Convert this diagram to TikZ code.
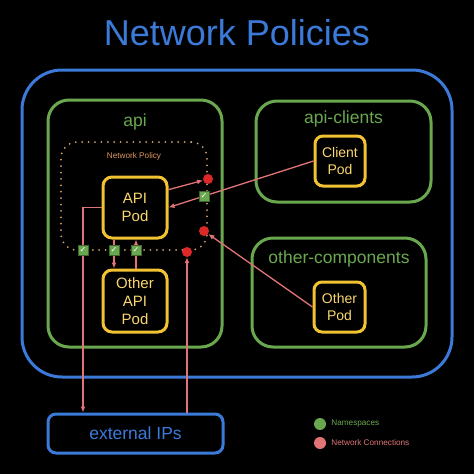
\documentclass[tikz,border=0pt]{standalone}
\usepackage{fontspec}
\setmainfont{Liberation Sans}
\newfontfamily\symfont{DejaVu Sans}
\usepackage{tikz}
\usetikzlibrary{positioning}
\usetikzlibrary{calc,arrows.meta}

\definecolor{kblue}{RGB}{60,122,218}
\definecolor{kgreen}{RGB}{106,168,79}
\definecolor{kyellow}{RGB}{241,194,50}
\definecolor{kpodtext}{RGB}{250,215,110}
\definecolor{kpink}{RGB}{226,116,120}
\definecolor{kred}{RGB}{222,40,40}
\definecolor{ktan}{RGB}{205,160,115}
\definecolor{kpolicy}{RGB}{222,150,95}

\tikzset{
	clusterbox/.style={draw=kblue, line width=3pt, rounded corners=40pt, inner sep=0pt},
	nsbox/.style={draw=kgreen, line width=3pt, rounded corners=21pt, inner sep=0pt},
	policybox/.style={draw=ktan, line width=2pt, line cap=round, dash pattern=on 0pt off 6.4pt, rounded corners=16pt, inner sep=0pt},
	podbox/.style={draw=kyellow, line width=3pt, rounded corners=9pt, inner sep=0pt, align=center, text=kpodtext},
	nslabel/.style={text=kgreen, font=\fontsize{17.5}{20}\selectfont, inner sep=0pt},
	conn/.style={draw=kpink, line width=1.3pt, -{Latex[length=6pt,width=5pt]}},
	reddot/.style={circle, fill=kred, minimum size=10pt, inner sep=0pt},
	okbox/.style={fill=kgreen, draw=kgreen!60!black, line width=0.5pt, minimum size=10pt, inner sep=0pt, text=white, font=\symfont\fontsize{8}{8}\selectfont},
	legenddot/.style={circle, minimum size=12pt, inner sep=0pt},
	legendtext/.style={font=\fontsize{8.2}{10}\selectfont, inner sep=0pt},
}

\begin{document}
\begin{tikzpicture}[x=1pt, y=-1pt]
	
	% black page, also fixes the size
	\fill[black] (0,0) rectangle (474,474);
	\useasboundingbox (0,0) rectangle (474,474);
	
	\node[text=kblue, font=\fontsize{36}{40}\selectfont, anchor=base, inner sep=0pt] (Title) at (237,45) {Network Policies};
	
	% cluster and namespaces, placed by their centres
	\node[clusterbox, minimum width=430pt, minimum height=307pt] (Cluster) at (237,223.5) {};
	\node[nsbox, minimum width=174pt, minimum height=247pt] (Api) at (135,223.5) {};
	\node[nsbox, minimum width=175pt, minimum height=101pt] (Clients) at (343.5,151.5) {};
	\node[nsbox, minimum width=174pt, minimum height=109pt] (Others) at (339,292.5) {};
	
	\node[nslabel, anchor=base] (ApiLabel) at ($(Api.north)+(0,28)$) {api};
	\node[nslabel, anchor=base] (ClientsLabel) at ($(Clients.north)+(0,24)$) {api-clients};
	\node[nslabel, anchor=base] (OthersLabel) at ($(Others.north)+(0,27)$) {other-components};
	
	\node[policybox, minimum width=146pt, minimum height=108pt] (Policy) at (134,196) {};
	\node[text=kpolicy, font=\fontsize{8.2}{10}\selectfont, anchor=base, inner sep=0pt] (PolicyLabel) at (134,158) {Network Policy};
	
	% pods
	\node[podbox, minimum width=64pt, minimum height=61pt, font=\fontsize{15}{18}\selectfont] (ApiPod) at (135,207.5) {API\\Pod};
	\node[podbox, minimum width=64pt, minimum height=62pt, font=\fontsize{15}{18}\selectfont] (OtherApiPod) at (135,301) {Other\\API\\Pod};
	\node[podbox, minimum width=50pt, minimum height=50pt, rounded corners=8pt, font=\fontsize{14}{16.5}\selectfont] (ClientPod) at (340,161) {Client\\Pod};
	\node[podbox, minimum width=51pt, minimum height=50pt, rounded corners=8pt, font=\fontsize{14}{16.5}\selectfont] (OtherPod) at (339.5,307) {Other\\Pod};
	
	\node[draw=kblue, line width=3pt, rounded corners=8pt, minimum width=175pt, minimum height=39pt, text=kblue, font=\fontsize{17.5}{20}\selectfont] (Ext) at (135.5,433.5) {external IPs};
	
	% blocked connections end on a red dot
	\node[reddot] (D1) at (208,179) {};
	\node[reddot] (D2) at (204,231) {};
	\node[reddot] (D3) at (187,252) {};
	
	% allowed connections pass a check box
	\coordinate (K1) at (83,250);
	\coordinate (K2) at (114,250);
	\coordinate (K3) at (136,250);
	\coordinate (K4) at (204,196);
	
	\draw[conn] (ApiPod.28) -- (D1);
	\draw[conn] (ClientPod.west) -- (ApiPod.east);
	\draw[conn] (OtherPod.west) -- (D2);
	\draw[conn] (K2 |- ApiPod.south) -- (K2 |- OtherApiPod.north);
	\draw[conn] (K3 |- OtherApiPod.north) -- (K3 |- ApiPod.south);
	\draw[conn] (ApiPod.west) -| (K1 |- Ext.north);
	\draw[conn] (D3 |- Ext.north) -- (D3);
	
	\foreach \k in {K1,K2,K3,K4}
		\node[okbox] at (\k) {✓};
	
	% legend
	\node[legenddot, fill=kgreen] (NsDot) at (320,424) {};
	\node[legendtext, text=kgreen, right=5pt of NsDot] (NsText) {Namespaces};
	\node[legenddot, fill=kpink] (ConnDot) at (320,443) {};
	\node[legendtext, text=kpink, right=5pt of ConnDot] (ConnText) {Network Connections};
	
\end{tikzpicture}
\end{document}
